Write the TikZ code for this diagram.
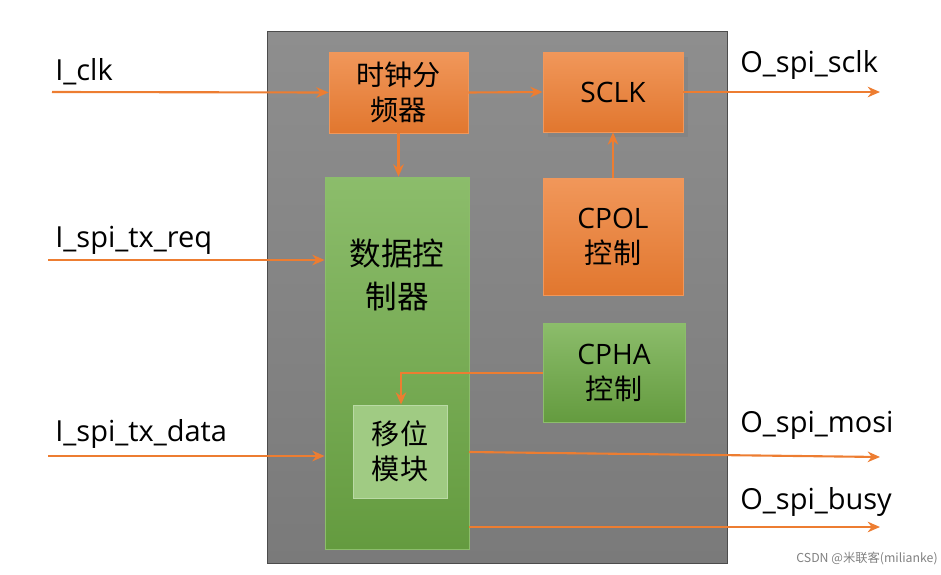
\documentclass[tikz,border=0pt]{standalone}
\usepackage{fontspec}
\setmainfont{Open Sans}
\newfontfamily\cjk{Noto Sans CJK SC}
\usetikzlibrary{arrows.meta,shadows}
\definecolor{org}{HTML}{ED7D31}
\definecolor{grn}{HTML}{6FAC46}
\definecolor{lgrn}{HTML}{A9D18E}
\definecolor{bgt}{HTML}{8E8E8E}
\definecolor{bgb}{HTML}{7A7A7A}
\begin{document}
\begin{tikzpicture}[x=0.02cm,y=-0.02cm,
 obox/.style={draw=org!80!white,top color=org!80!white,bottom color=org!95!black,inner sep=0,font=\cjk\fontsize{16}{20}\selectfont,align=center},
 gbox/.style={draw=grn!80!white,top color=grn!80!white,bottom color=grn!90!black,inner sep=0,font=\cjk\fontsize{16}{20}\selectfont,align=center},
 lab/.style={anchor=west,font=\fontsize{16.5}{19}\selectfont,inner sep=0},
 arr/.style={draw=org,line width=1.2pt,-{Stealth[length=7pt,width=6pt]}}]
\useasboundingbox (0,0) rectangle (941,575);
\node[draw=black!70,top color=bgt,bottom color=bgb,minimum width=460*0.02cm,minimum height=532*0.02cm,anchor=north west] (bg) at (267,31) {};
\node[obox,minimum width=139*0.02cm,minimum height=81*0.02cm] (div) at (398.5,92.5) {时钟分\\频器};
\node[obox,minimum width=140*0.02cm,minimum height=80*0.02cm,drop shadow] (sclk) at (613,92) {\fontspec{Open Sans}SCLK};
\node[obox,minimum width=140*0.02cm,minimum height=117*0.02cm] (cpol) at (613,236.5) {{\fontspec{Open Sans}CPOL}\\控制};
\node[gbox,minimum width=144*0.02cm,minimum height=372*0.02cm] (dc) at (397,363) {};
\node[font=\cjk\fontsize{18}{24}\selectfont,align=center] (dct) at (397,275) {数据控\\制器};
\node[gbox,minimum width=142*0.02cm,minimum height=99*0.02cm] (cpha) at (614,372.5) {{\fontspec{Open Sans}CPHA}\\控制};
\node[draw=lgrn!80!white,fill=lgrn!85!grn,inner sep=0,minimum width=94*0.02cm,minimum height=93*0.02cm,font=\cjk\fontsize{16}{20}\selectfont,align=center] (sh) at (400,451.5) {移位\\模块};
\coordinate (clkin) at (52,92);
\coordinate (reqin) at (48,260);
\coordinate (datin) at (48,456);
\coordinate (sclkout) at (880,92);
\coordinate (mosiout) at (880,457);
\coordinate (busyout) at (880,527);
\coordinate (bend) at (401,373);
\draw[arr] (clkin) -- (div.west);
\draw[arr] (div.east) -- (sclk.west);
\draw[arr] (sclk.east) -- (sclkout);
\draw[arr] (div.south) -- (dc.north-|div.south);
\draw[arr] (cpol.north) -- (sclk.south);
\draw[arr] (reqin) -- (reqin-|dc.west);
\draw[arr] (datin) -- (datin-|dc.west);
\draw[arr] (cpha.west|-bend) -- (bend) -- (sh.north-|bend);
\draw[arr] (469,452) -- (mosiout);
\draw[arr] (469,527) -- (busyout);
\node[lab] (l1) at (55,72) {I\_clk};
\node[lab] (l2) at (55,240) {I\_spi\_tx\_req};
\node[lab] (l3) at (55,434) {I\_spi\_tx\_data};
\node[lab] (l4) at (740,65) {O\_spi\_sclk};
\node[lab] (l5) at (740,425) {O\_spi\_mosi};
\node[lab] (l6) at (740,502) {O\_spi\_busy};
\node[anchor=east,font=\cjk\fontsize{7}{8}\selectfont,text=gray,inner sep=0] (wm) at (938,558) {CSDN @米联客(milianke)};
\end{tikzpicture}
\end{document}
